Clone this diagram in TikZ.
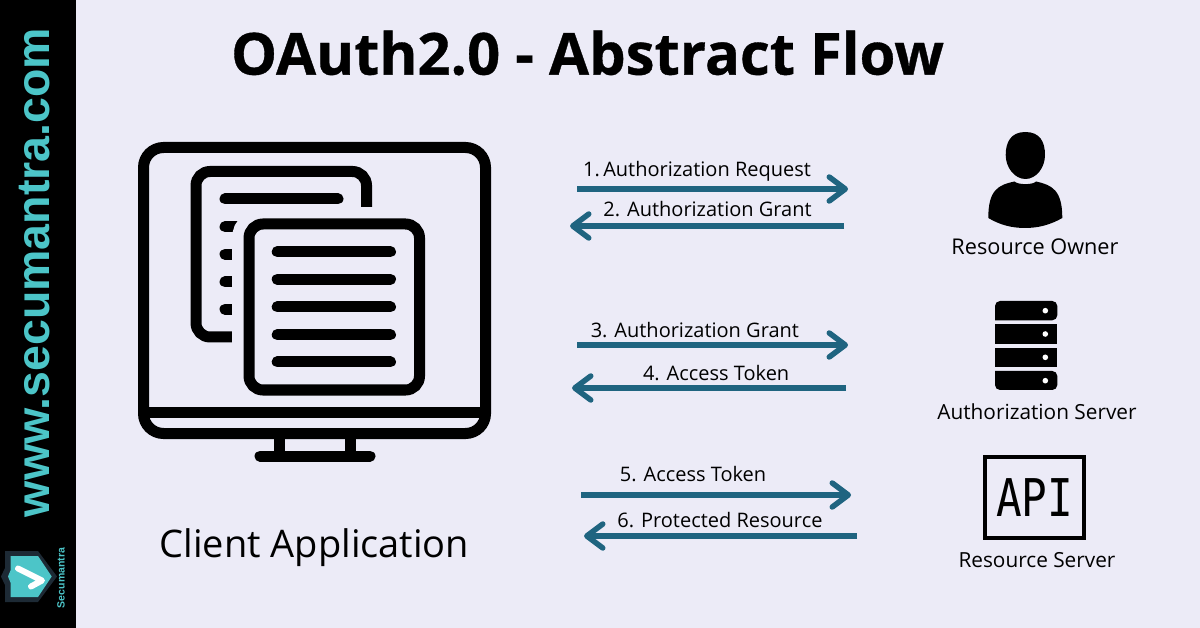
\documentclass[tikz,border=0pt]{standalone}
\usepackage{fontspec}
\setmainfont{Open Sans}
\newfontfamily\sidefont{Liberation Sans}
\newfontfamily\apifont[FakeStretch=0.82]{DejaVu Sans Mono}
\newfontfamily\titlefont[FakeBold=0.6]{Open Sans}
\usetikzlibrary{positioning,arrows.meta}
\definecolor{paper}{HTML}{ECEBF7}
\definecolor{teal}{HTML}{4CC5C8}
\definecolor{flowblue}{HTML}{1F6480}
\definecolor{shield}{HTML}{1D2A35}
\tikzset{
  flow/.style={line width=5.5pt, flowblue, -{Straight Barb[length=16pt,width=24pt,round]}},
  flowlabel/.style={inner sep=0pt, text height=15pt, text depth=5pt, font=\fontsize{20}{24}\selectfont, text=black},
  outline/.style={line width=11pt, draw=black},
  textline/.style={line width=11pt, line cap=round},
  caption/.style={inner sep=0pt, text=black, font=\fontsize{20.8}{25}\selectfont}
}
\begin{document}
\begin{tikzpicture}[x=1pt, y=-1pt, node distance=270pt]
   \fill[paper] (0,0) rectangle (1200,628);
   \useasboundingbox (0,0) rectangle (1200,628);
   % side bar
   \fill[black] (0,0) rectangle (76,628);
   \node[rotate=90, inner sep=0pt, text=teal, font=\sidefont\bfseries\fontsize{46.5}{52}\selectfont] (site) at (35,272.5) {www.secumantra.com};
   \fill[shield] (5,551) -- (38,551) -- (57,576.5) -- (38,602) -- (5,602) -- (5,585) -- (1,576.5) -- (5,568) -- cycle;
   \fill[teal] (10.7,556) -- (38,556) -- (51.7,576.5) -- (38,597) -- (10.7,597) -- (10.7,583) -- (8,576.5) -- (10.7,570) -- cycle;
   \draw[white, line width=6pt, line cap=round, line join=round] (18,568.5) -- (42,580.5) -- (31,586.5);
   \node[rotate=90, inner sep=0pt, text=teal, font=\sidefont\bfseries\fontsize{10.5}{12}\selectfont] (brand) at (61,578) {Secumantra};
   % title
   \node[inner sep=0pt, text=black, font=\titlefont\bfseries\fontsize{58}{64}\selectfont] (title) at (587.5,53) {OAuth2.0 - Abstract Flow};
   % monitor
   \draw[outline, rounded corners=20pt] (143.5,147.5) rectangle (485.5,433.5);
   \draw[outline] (143.5,412) -- (485.5,412);
   \draw[outline] (279,433) -- (279,456);
   \draw[outline] (350.5,433) -- (350.5,456);
   \draw[textline] (260,456) -- (370,456);
   % back page
   \draw[outline, rounded corners=14pt] (196,171.5) rectangle (366.5,337);
   \draw[textline] (225,199) -- (338,199);
   \foreach \y in {226.7,254.3,282,309.3} {
      \draw[textline] (225,\y) -- (260,\y);
   }
   % front page
   \draw[line width=33.6pt, paper, fill=paper, rounded corners=14pt] (249,224) rectangle (419.5,390);
   \draw[outline, rounded corners=14pt] (249,224) rectangle (419.5,390);
   \foreach \y in {251.7,279.3,307,334.7,362} {
      \draw[textline] (277.2,\y) -- (390.5,\y);
   }
   \node[inner sep=0pt, text=black, font=\fontsize{38}{44}\selectfont] (client) at (314.5,548) {Client Application};
   % arrows
   \node[coordinate] (reqa) at (577,189) {};
   \node[coordinate, right of=reqa, node distance=271pt] (reqb) {};
   \node[coordinate] (grantb) at (844,226) {};
   \node[coordinate, left of=grantb, node distance=274pt] (granta) {};
   \node[coordinate] (autha) at (577,345) {};
   \node[coordinate, right of=autha, node distance=271pt] (authb) {};
   \node[coordinate] (tokb) at (846,388) {};
   \node[coordinate, left of=tokb, node distance=274pt] (toka) {};
   \node[coordinate] (usea) at (581,495) {};
   \node[coordinate, right of=usea, node distance=270pt] (useb) {};
   \node[coordinate] (resb) at (857,536) {};
   \node[coordinate, left of=resb, node distance=273pt] (resa) {};
   \draw[flow] (reqa) -- node[flowlabel, pos=.443, above=5pt] (reqlabel) {1.\,Authorization Request} (reqb);
   \draw[flow] (grantb) -- node[flowlabel, pos=.498, above=2pt] (grantlabel) {2. Authorization Grant} (granta);
   \draw[flow] (autha) -- node[flowlabel, pos=.435, above=0pt] (authlabel) {3. Authorization Grant} (authb);
   \draw[flow] (tokb) -- node[flowlabel, pos=.474, above=0pt] (toklabel) {4. Access Token} (toka);
   \draw[flow] (usea) -- node[flowlabel, pos=.415, above=6pt] (uselabel) {5. Access Token} (useb);
   \draw[flow] (resb) -- node[flowlabel, pos=.502, above=1pt] (reslabel) {6. Protected Resource} (resa);
   % resource owner
   \fill[black] (1025.4,132) .. controls (1040,132) and (1045,142) .. (1045,155) .. controls (1045,168) and (1036,179) .. (1025.4,179) .. controls (1015,179) and (1005.7,168) .. (1005.7,155) .. controls (1005.7,142) and (1011,132) .. (1025.4,132) -- cycle;
   \fill[black] (1014.5,181.5) .. controls (1018,185) and (1033,185) .. (1036,181.5) .. controls (1052,185) and (1062.3,190) .. (1062.3,218) .. controls (1050,225) and (1038,228) .. (1025,228) .. controls (1012,228) and (1000,225) .. (988.3,218) .. controls (988.3,190) and (998,185) .. (1014.5,181.5) -- cycle;
   \node[caption, font=\fontsize{21.7}{26}\selectfont] (owner) at (1035,247) {Resource Owner};
   % authorization server
   \fill[black, rounded corners=5pt] (995,320.3) -- (995,301) -- (1057.3,301) -- (1057.3,320.3) [sharp corners] -- cycle;
   \fill[black] (995,324.3) rectangle (1057.3,343.7);
   \fill[black] (995,347.7) rectangle (1057.3,367);
   \fill[black, rounded corners=5pt] (995,371) -- (995,390) -- (1057.3,390) -- (1057.3,371) [sharp corners] -- cycle;
   \foreach \y in {310.7,334,357.3,380.7} {
      \fill[white] (1045.3,\y) circle (2.8pt);
   }
   \node[caption] (authserver) at (1037,412) {Authorization Server};
   % resource server
   \node[draw=black, line width=4pt, minimum width=99pt, minimum height=81pt, inner sep=0pt, text=black, font=\apifont\fontsize{52}{56}\selectfont] (api) at (1034.7,497.5) {API};
   \node[caption] (resserver) at (1037,560) {Resource Server};
\end{tikzpicture}
\end{document}
